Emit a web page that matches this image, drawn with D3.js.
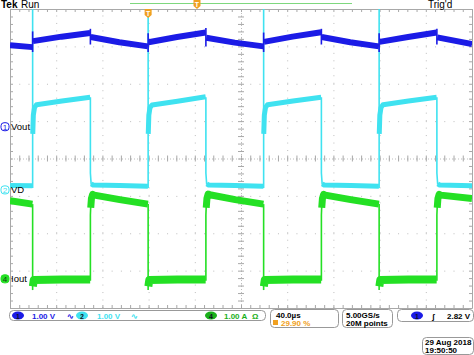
<!DOCTYPE html>
<html>
<head>
<meta charset="utf-8">
<script src="https://cdn.jsdelivr.net/npm/d3@7"></script>
<style>
  body { margin: 0; background: #fff; }
  svg { display: block; font-family: "Liberation Sans", Arial, sans-serif; }
</style>
</head>
<body>
<svg id="chart" width="474" height="355"></svg>
<script>
// ---- scope settings (40 us/div, 10 x 8 divisions) ----
const timeDomain = [0, 400];          // us across the screen
const divDomain = [-4, 4];            // vertical divisions
const riseTimes = [19.6, 119.6, 219.6, 319.6];
const fallTimes = [69.6, 169.6, 269.6, 369.6];

const chNumbers = ["1", "2", "4"];
const chNames = ["Vout", "VD", "Iout"];
const chPositions = [0.85, -0.84, -3.22];   // ground marker, divisions
const chScales = [1, 1, 1];                 // units per division
const chScaleText = ["1.00 V", "1.00 V", "1.00 A"];

// ---- waveforms, [time us, value] ----
const voutSegs = [
  [[0, 2.18], [19.4, 2.13]],
  [[19.9, 2.29], [44.6, 2.41], [69.4, 2.51]],
  [[69.9, 2.40], [94.6, 2.26], [119.4, 2.15]],
  [[119.9, 2.26], [144.6, 2.40], [169.4, 2.52]],
  [[169.9, 2.38], [194.6, 2.25], [219.4, 2.15]],
  [[219.9, 2.27], [244.6, 2.41], [269.4, 2.53]],
  [[269.9, 2.40], [294.6, 2.26], [319.4, 2.15]],
  [[319.9, 2.27], [344.6, 2.40], [369.4, 2.52]],
  [[369.9, 2.39], [400, 2.21]]
];
const voutSpikes = [
  [19.6, 2.0, 2.55], [69.6, 2.2, 2.62],
  [119.6, 2.0, 2.5], [169.6, 2.15, 2.64],
  [219.6, 2.0, 2.52], [269.6, 2.2, 2.62],
  [319.6, 2.0, 2.5], [369.6, 2.2, 2.62]
];

const vdHigh = [
  [[19.7, 1.5], [20.2, 2.0], [21.2, 2.2], [23, 2.28], [45, 2.38], [69.4, 2.48]],
  [[119.7, 1.5], [120.2, 2.0], [121.2, 2.2], [123, 2.27], [145, 2.37], [169.4, 2.49]],
  [[219.7, 1.5], [220.2, 2.0], [221.2, 2.2], [223, 2.28], [245, 2.38], [269.4, 2.48]],
  [[319.7, 1.5], [320.2, 2.0], [321.2, 2.2], [323, 2.28], [345, 2.38], [369.4, 2.48]]
];
const vdLow = [
  [[0, 0.12], [19.4, 0.11]],
  [[70.3, 0.16], [72, 0.13], [95, 0.12], [119.4, 0.10]],
  [[170.3, 0.16], [172, 0.13], [195, 0.12], [219.4, 0.10]],
  [[270.3, 0.16], [272, 0.13], [295, 0.12], [319.4, 0.10]],
  [[370.3, 0.16], [372, 0.13], [400, 0.11]]
];

const ioutHigh = [
  [[0, 2.09], [19.4, 2.0]],
  [[69.9, 1.9], [70.5, 2.15], [71.6, 2.26], [73, 2.24], [95, 2.12], [119.4, 2.0]],
  [[169.9, 1.9], [170.5, 2.15], [171.6, 2.27], [173, 2.25], [195, 2.12], [219.4, 2.0]],
  [[269.9, 1.9], [270.5, 2.15], [271.6, 2.26], [273, 2.24], [295, 2.12], [319.4, 2.0]],
  [[369.9, 1.9], [370.5, 2.15], [371.6, 2.26], [373, 2.24], [400, 2.15]]
];
const ioutLow = [
  [[19.8, -0.2], [20.6, -0.03], [45, -0.02], [69.4, -0.02]],
  [[119.8, -0.2], [120.6, -0.03], [145, -0.02], [169.4, -0.02]],
  [[219.8, -0.2], [220.6, -0.03], [245, -0.02], [269.4, -0.02]],
  [[319.8, -0.2], [320.6, -0.03], [345, -0.02], [369.4, -0.02]]
];

// ---- drawing ----
const svg = d3.select("#chart");
const plot = { left: 10, right: 472, top: 9, bottom: 308 };

const x = d3.scaleLinear().domain(timeDomain).range([plot.left, plot.right]);
const y = d3.scaleLinear().domain(divDomain).range([plot.bottom, plot.top]);

const colors = { ch1: "#1b1be6", ch2: "#3fe2f0", ch4: "#24e024", orange: "#f0a020", grid: "#bdbdbd", frame: "#a8a8a8" };

svg.append("defs").append("clipPath").attr("id", "clip")
  .append("rect")
  .attr("x", plot.left).attr("y", plot.top)
  .attr("width", plot.right - plot.left).attr("height", plot.bottom - plot.top);

// graticule: dotted division lines
const grid = svg.append("g");
const minorStepT = 8, minorStepD = 0.2;
const divStepPx = (plot.bottom - plot.top) / 8;
const colStepPx = (plot.right - plot.left) / 10;

grid.append("g")
  .attr("transform", `translate(0,${plot.bottom})`)
  .call(d3.axisBottom(x).tickValues(d3.range(40, 400, 40)).tickSize(-(plot.bottom - plot.top)).tickFormat(""))
  .call(g => g.select(".domain").remove())
  .call(g => g.selectAll(".tick line").attr("stroke", colors.grid)
    .attr("stroke-dasharray", `1 ${divStepPx / 5 - 1}`));

grid.append("g")
  .attr("transform", `translate(${plot.left},0)`)
  .call(d3.axisLeft(y).tickValues(d3.range(-3, 4, 1)).tickSize(-(plot.right - plot.left)).tickFormat(""))
  .call(g => g.select(".domain").remove())
  .call(g => g.selectAll(".tick line").attr("stroke", colors.grid)
    .attr("stroke-dasharray", `1 ${colStepPx / 5 - 1}`));

// center cross with minor ticks
const minorT = d3.range(0, 400.1, minorStepT);
const minorD = d3.range(-4, 4.01, minorStepD);

grid.append("g")
  .attr("transform", `translate(0,${y(0)})`)
  .call(d3.axisBottom(x).tickValues(minorT).tickSize(3).tickFormat(""))
  .call(g => g.select(".domain").attr("stroke", colors.grid).attr("stroke-dasharray", "1 2"))
  .call(g => g.selectAll(".tick line").attr("y1", -3).attr("stroke", colors.frame));

grid.append("g")
  .attr("transform", `translate(${x(200)},0)`)
  .call(d3.axisRight(y).tickValues(minorD).tickSize(3).tickFormat(""))
  .call(g => g.select(".domain").attr("stroke", colors.grid).attr("stroke-dasharray", "1 2"))
  .call(g => g.selectAll(".tick line").attr("x1", -3).attr("stroke", colors.frame));

// frame with inward ticks
const frameAxes = [
  [d3.axisBottom(x).tickValues(minorT), `translate(0,${plot.top})`],
  [d3.axisTop(x).tickValues(minorT), `translate(0,${plot.bottom})`],
  [d3.axisRight(y).tickValues(minorD), `translate(${plot.left},0)`],
  [d3.axisLeft(y).tickValues(minorD), `translate(${plot.right},0)`]
];
frameAxes.forEach(([axis, tr]) => {
  grid.append("g").attr("transform", tr)
    .call(axis.tickSize(3).tickSizeOuter(0).tickFormat(""))
    .call(g => g.select(".domain").attr("stroke", colors.frame))
    .call(g => g.selectAll(".tick line").attr("stroke", colors.frame));
});

// traces
const traces = svg.append("g").attr("clip-path", "url(#clip)");
const lineFor = i => d3.line()
  .x(d => x(d[0]))
  .y(d => y(chPositions[i] + d[1] / chScales[i]));

function band(data, i, color, width) {
  traces.append("g").selectAll("path").data(data).join("path")
    .attr("d", lineFor(i))
    .attr("fill", "none").attr("stroke", color)
    .attr("stroke-width", width).attr("stroke-linejoin", "round");
}
function edges(data, i, color) {
  traces.append("g").selectAll("path").data(data).join("path")
    .attr("d", lineFor(i))
    .attr("fill", "none").attr("stroke", color).attr("stroke-width", 1.6);
}

// Iout (ch4)
edges(riseTimes.map(t => [[t, 2.0], [t, -0.3]]), 2, colors.ch4);
edges(fallTimes.map(t => [[t, -0.05], [t, 1.7], [t + 0.3, 1.95]]), 2, colors.ch4);
band(ioutHigh, 2, colors.ch4, 7);
band(ioutLow, 2, colors.ch4, 8);

// VD (ch2)
edges(riseTimes.map(t => [[t, 0.05], [t, 5.2]]), 1, colors.ch2);
edges(fallTimes.map(t => [[t, 2.48], [t, 0.45], [t + 0.7, 0.14]]), 1, colors.ch2);
band(vdHigh, 1, colors.ch2, 5);
band(vdLow, 1, colors.ch2, 5);

// Vout (ch1)
edges(voutSpikes.map(d => [[d[0], d[1]], [d[0], d[2]]]), 0, colors.ch1);
band(voutSegs, 0, colors.ch1, 6);

// channel markers and labels
const chColors = [colors.ch1, colors.ch2, colors.ch4];
chNumbers.forEach((n, i) => {
  const cy = y(chPositions[i]);
  const filled = i === 2;
  const m = svg.append("g");
  m.append("rect").attr("x", 1).attr("y", cy - 4).attr("width", 8).attr("height", 8).attr("rx", 3)
    .attr("fill", filled ? chColors[i] : "#fff").attr("stroke", chColors[i]).attr("stroke-width", 1);
  m.append("text").attr("x", 5).attr("y", cy + 3).attr("text-anchor", "middle")
    .attr("font-size", 8).attr("fill", filled ? "#114411" : chColors[i]).text(n);
  svg.append("text").attr("x", 11).attr("y", cy + 3.5)
    .attr("font-size", 9.5).attr("fill", "#000").text(chNames[i]);
});

// header
svg.append("text").attr("x", 1).attr("y", 8).attr("font-size", 10).attr("font-weight", "bold").text("Tek");
svg.append("text").attr("x", 21).attr("y", 8).attr("font-size", 10).text("Run");
svg.append("text").attr("x", 428).attr("y", 8).attr("font-size", 10).text("Trig'd");
svg.append("line").attr("x1", 130).attr("x2", 352).attr("y1", 3.5).attr("y2", 3.5)
  .attr("stroke", "#7ed87e").attr("stroke-width", 1);

function trigMarker(cx, top) {
  const g = svg.append("g");
  g.append("path")
    .attr("d", `M${cx - 3.5},${top} h7 v6 l-3.5,3 l-3.5,-3 Z`)
    .attr("fill", colors.orange);
  g.append("text").attr("x", cx).attr("y", top + 6.5).attr("text-anchor", "middle")
    .attr("font-size", 7).attr("font-weight", "bold").attr("fill", "#fff").text("T");
}
trigMarker(197, 0);
trigMarker(x(riseTimes[1]), 9);

// status bar
const status = svg.append("g").attr("font-size", 8).attr("font-weight", "bold");
const box = (bx, by, w, h) => status.append("rect").attr("x", bx).attr("y", by).attr("width", w).attr("height", h)
  .attr("rx", 4).attr("fill", "#fff").attr("stroke", "#999").attr("stroke-width", 1);
const chip = (cx, cy, color, label) => {
  status.append("ellipse").attr("cx", cx).attr("cy", cy).attr("rx", 6).attr("ry", 4).attr("fill", color);
  status.append("text").attr("x", cx).attr("y", cy + 3).attr("text-anchor", "middle")
    .attr("font-size", 7).attr("fill", "#112").text(label);
};
const txt = (tx, ty, s, color) => status.append("text").attr("x", tx).attr("y", ty).attr("fill", color || "#000").text(s);

box(9.5, 310.5, 256, 10);
chip(18, 315.5, colors.ch1, chNumbers[0]);
txt(32, 318.5, chScaleText[0], colors.ch1);
txt(67, 318.5, "∿", colors.ch1);
chip(82, 315.5, colors.ch2, chNumbers[1]);
txt(97, 318.5, chScaleText[1], colors.ch2);
txt(131, 318.5, "∿", colors.ch2);
chip(211, 315.5, "#1ab01a", chNumbers[2]);
txt(224, 318.5, chScaleText[2], "#1ab01a");
txt(252, 318.5, "Ω", "#1ab01a");

box(270.5, 309.5, 68, 18);
txt(276, 317.5, "40.0µs");
status.append("rect").attr("x", 273).attr("y", 320).attr("width", 5).attr("height", 5).attr("fill", colors.orange);
txt(281, 326, "29.90 %", colors.orange);

box(342.5, 309.5, 50, 18);
txt(346, 317.5, "5.00GS/s");
txt(346, 326, "20M points");

box(397.5, 309.5, 76, 12);
chip(417, 315.5, colors.ch1, chNumbers[0]);
txt(432, 318.5, "ʃ");
txt(447, 318.5, "2.82 V");

box(422.5, 337.5, 51, 17);
txt(425, 345, "29 Aug 2018");
txt(425, 353, "19:50:50");
</script>
</body>
</html>
